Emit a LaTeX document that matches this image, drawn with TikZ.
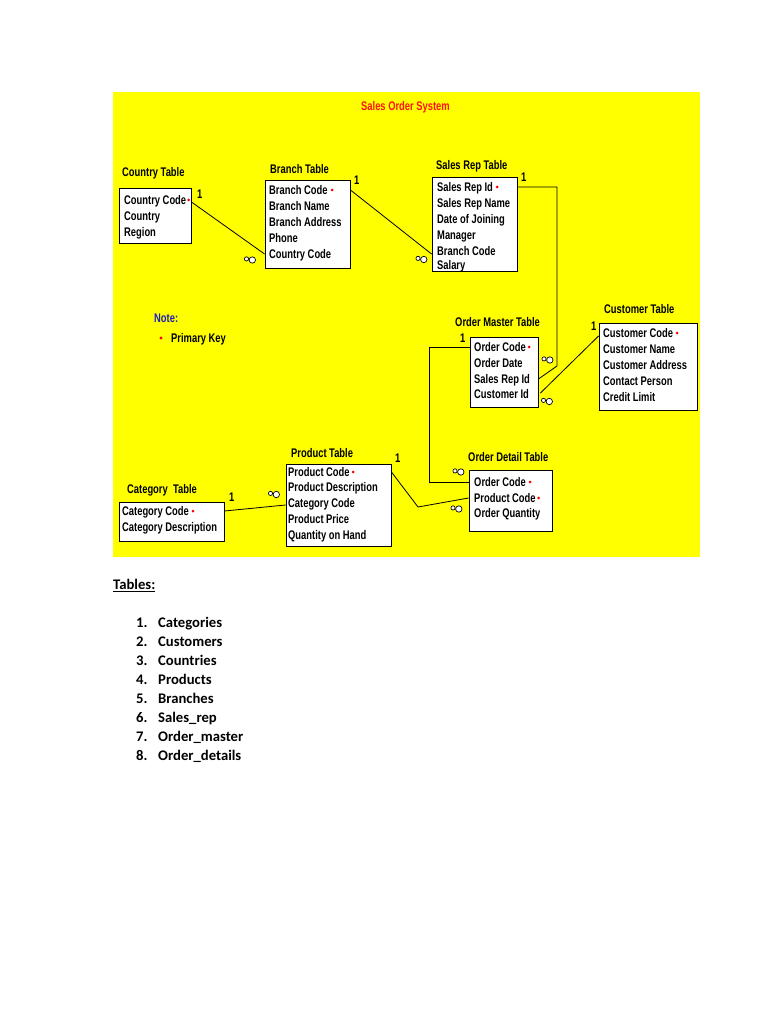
\documentclass[tikz,border=0pt]{standalone}
\usepackage{fontspec}
\newfontfamily\dfont{Liberation Sans}[FakeStretch=0.75]
\newfontfamily\lfont{Carlito}
\definecolor{bgyellow}{RGB}{255,255,0}
\definecolor{notblue}{RGB}{30,30,190}
\definecolor{titred}{RGB}{255,20,20}
\tikzset{
  dfnt/.style={font=\dfont\bfseries\fontsize{12.5}{14}\selectfont},
  field/.style={dfnt, anchor=west, inner sep=0pt, text height=9pt, text depth=0pt},
  tbl/.style={draw, fill=white, line width=0.9pt, inner sep=0pt},
  conn/.style={line width=0.8pt},
  lst/.style={font=\lfont\bfseries\fontsize{14.67}{17}\selectfont, anchor=west, inner sep=0pt, text height=9.4pt, text depth=0pt},
  many/.pic={
    \draw[fill=white, line width=0.7pt] (-3,-0.6) circle (2.1pt);
    \draw[fill=white, line width=0.7pt] (2.8,0.5) circle (3.2pt);
  }
}
\begin{document}
\begin{tikzpicture}[x=1pt, y=-1pt]
\useasboundingbox[fill=white] (0,0) rectangle (768,1024);
\fill[bgyellow] (113,92) rectangle (700,557);

% title and note
\node[dfnt, text=titred, anchor=west, inner sep=0pt] (title) at (361,107) {Sales Order System};
\node[field, text=notblue] (note) at (154,318) {Note:};
\node[field] (pk) at (171,338) {Primary Key};
\fill[red] (161,338) circle (1.6pt);

% Country table
\node[field] (lcountry) at (122,172) {Country Table};
\node[tbl, minimum width=72pt, minimum height=55pt] (country) at (155,215.5) {};
\node[field] (cc1) at (124,200) {Country Code};
\node[field] (cc2) at (124,216) {Country};
\node[field] (cc3) at (124,232) {Region};
\fill[red] (188.5,200) circle (1.5pt);

% Branch table
\node[field] (lbranch) at (270,169) {Branch Table};
\node[tbl, minimum width=85pt, minimum height=88pt] (branch) at (307.5,224) {};
\node[field] (bc1) at (269,190) {Branch Code};
\node[field] (bc2) at (269,206) {Branch Name};
\node[field] (bc3) at (269,222) {Branch Address};
\node[field] (bc4) at (269,238) {Phone};
\node[field] (bc5) at (269,254) {Country Code};
\fill[red] (332,190) circle (1.5pt);

% Sales Rep table
\node[field] (lsalesrep) at (436,165) {Sales Rep Table};
\node[tbl, minimum width=85pt, minimum height=94pt] (salesrep) at (474.5,224) {};
\node[field] (sr1) at (437,187) {Sales Rep Id};
\node[field] (sr2) at (437,203) {Sales Rep Name};
\node[field] (sr3) at (437,219) {Date of Joining};
\node[field] (sr4) at (437,235) {Manager};
\node[field] (sr5) at (437,251) {Branch Code};
\node[field] (sr6) at (437,265) {Salary};
\fill[red] (497,187) circle (1.5pt);

% Order Master table
\node[field] (lom) at (455,322) {Order Master Table};
\node[tbl, minimum width=68pt, minimum height=70pt] (om) at (504,372) {};
\node[field] (om1) at (474,347) {Order Code};
\node[field] (om2) at (474,363) {Order Date};
\node[field] (om3) at (474,379) {Sales Rep Id};
\node[field] (om4) at (474,394) {Customer Id};
\fill[red] (529,347) circle (1.5pt);

% Customer table
\node[field] (lcustomer) at (604,309) {Customer Table};
\node[tbl, minimum width=98pt, minimum height=87pt] (customer) at (648,366.5) {};
\node[field] (cu1) at (603,333) {Customer Code};
\node[field] (cu2) at (603,349) {Customer Name};
\node[field] (cu3) at (603,365) {Customer Address};
\node[field] (cu4) at (603,381) {Contact Person};
\node[field] (cu5) at (603,397) {Credit Limit};
\fill[red] (677,333) circle (1.5pt);

% Order Detail table
\node[field] (lod) at (468,457) {Order Detail Table};
\node[tbl, minimum width=83pt, minimum height=61pt] (od) at (510.5,500.5) {};
\node[field] (od1) at (474,482) {Order Code};
\node[field] (od2) at (474,498) {Product Code};
\node[field] (od3) at (474,513) {Order Quantity};
\fill[red] (530,482) circle (1.5pt);
\fill[red] (538.5,498) circle (1.5pt);

% Product table
\node[field] (lproduct) at (291,453) {Product Table};
\node[tbl, minimum width=105pt, minimum height=82pt] (product) at (338.5,505) {};
\node[field] (pr1) at (288,472) {Product Code};
\node[field] (pr2) at (288,487) {Product Description};
\node[field] (pr3) at (288,503) {Category Code};
\node[field] (pr4) at (288,519) {Product Price};
\node[field] (pr5) at (288,535) {Quantity on Hand};
\fill[red] (353,472) circle (1.5pt);

% Category table
\node[field] (lcategory) at (127,489) {Category\ \ Table};
\node[tbl, minimum width=105pt, minimum height=39pt] (category) at (171.5,521.5) {};
\node[field] (ca1) at (122,511) {Category Code};
\node[field] (ca2) at (122,527) {Category Description};
\fill[red] (193,511) circle (1.5pt);

% "1" labels
\node[field] (one1) at (197,194) {1};
\node[field] (one2) at (354,180) {1};
\node[field] (one3) at (521,177) {1};
\node[field] (one4) at (460,338) {1};
\node[field] (one5) at (591,326) {1};
\node[field] (one6) at (395,458) {1};
\node[field] (one7) at (229,497) {1};

% connectors
\coordinate (srbend) at (557,366);
\coordinate (prbend) at (418,507);
\draw[conn] ([yshift=-2pt]country.east |- cc1) -- (branch.west |- bc5);
\draw[conn] (branch.east |- bc1) -- ([yshift=-3pt]salesrep.west |- sr5);
\draw[conn] (salesrep.east |- sr1) -| (srbend) -- (om.east |- om3);
\draw[conn] ([yshift=-3pt]customer.west |- cu1) -- ([xshift=2pt,yshift=1pt]om.east |- om4);
\draw[conn] (om.west |- om1) -- ++(-40,0) |- (od.west |- od1);
\draw[conn] (product.east |- pr1) -- (prbend) -- (od.west |- od2);
\draw[conn] (category.east |- ca1) -- ([yshift=-2pt]product.west |- pr3);

% many symbols
\pic at (249.5,259.5) {many};
\pic at (421,259) {many};
\pic at (547,359.5) {many};
\pic at (546.5,401) {many};
\pic at (458,471.5) {many};
\pic at (456,508.5) {many};
\pic at (273.5,494) {many};

% tables list
\node[lst] (tables) at (113,585) {\underline{Tables:}};
\foreach \i/\t [count=\k] in {623/Categories, 642/Customers, 661/Countries, 680/Products, 699/Branches, 718/Sales\_rep, 737/Order\_master, 756/Order\_details}{
  \node[lst] (num\k) at (136,\i) {\k.};
  \node[lst] (item\k) at (158,\i) {\t};
}
\end{tikzpicture}
\end{document}
